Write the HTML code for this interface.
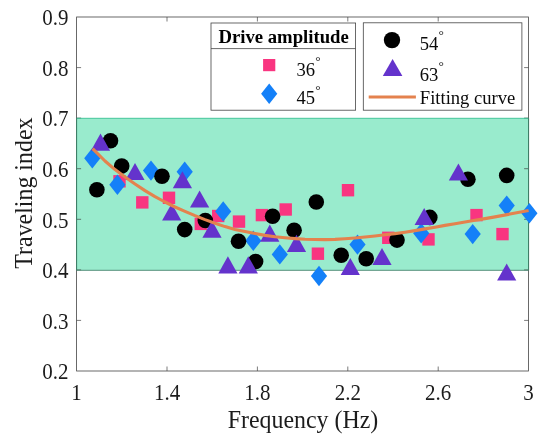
<!DOCTYPE html>
<html><head><meta charset="utf-8"><title>Traveling index vs Frequency</title>
<style>
html,body{margin:0;padding:0;background:#fff;}
body{width:550px;height:441px;overflow:hidden;}
svg{display:block;}
text{font-family:"Liberation Serif","Times New Roman",serif;fill:#1c1c1c;}
.tick{font-size:22.8px;}
.lab{font-size:24.2px;}
.leg{font-size:18.6px;fill:#0a0a0a;}
.deg{font-size:13.5px;}
.legb{font-size:18.7px;font-weight:bold;fill:#000;}
</style></head><body>
<svg width="550" height="441" viewBox="0 0 550 441">
<rect x="0" y="0" width="550" height="441" fill="#ffffff"/>

<rect x="76.6" y="118.3" width="452.0" height="152.0" fill="#99EBCD"/>
<path d="M167.0,371.0 v-4.5 M167.0,17.0 v4.5" stroke="#444444" stroke-width="0.7" fill="none"/>
<path d="M257.4,371.0 v-4.5 M257.4,17.0 v4.5" stroke="#444444" stroke-width="0.7" fill="none"/>
<path d="M347.8,371.0 v-4.5 M347.8,17.0 v4.5" stroke="#444444" stroke-width="0.7" fill="none"/>
<path d="M438.2,371.0 v-4.5 M438.2,17.0 v4.5" stroke="#444444" stroke-width="0.7" fill="none"/>
<path d="M76.6,320.4 h4.5 M528.6,320.4 h-4.5" stroke="#444444" stroke-width="0.7" fill="none"/>
<path d="M76.6,269.9 h4.5 M528.6,269.9 h-4.5" stroke="#444444" stroke-width="0.7" fill="none"/>
<path d="M76.6,219.3 h4.5 M528.6,219.3 h-4.5" stroke="#444444" stroke-width="0.7" fill="none"/>
<path d="M76.6,168.7 h4.5 M528.6,168.7 h-4.5" stroke="#444444" stroke-width="0.7" fill="none"/>
<path d="M76.6,118.1 h4.5 M528.6,118.1 h-4.5" stroke="#444444" stroke-width="0.7" fill="none"/>
<path d="M76.6,67.6 h4.5 M528.6,67.6 h-4.5" stroke="#444444" stroke-width="0.7" fill="none"/>
<rect x="76.6" y="17.0" width="452.0" height="354.0" fill="none" stroke="#444444" stroke-width="0.8"/>
<path d="M76.6,118.3 H528.6" stroke="#35C193" stroke-width="0.9" fill="none"/><path d="M76.6,270.3 H528.6" stroke="#4A8570" stroke-width="0.9" fill="none"/><path d="M76.6,118.3 V270.3 M528.6,118.3 V270.3" stroke="#3C8068" stroke-width="1" fill="none"/>
<g>
<rect x="113.3" y="175.1" width="12.4" height="12.4" fill="#F93580"/>
<rect x="136.1" y="196.2" width="12.4" height="12.4" fill="#F93580"/>
<rect x="162.8" y="191.6" width="12.4" height="12.4" fill="#F93580"/>
<rect x="212.0" y="209.8" width="12.4" height="12.4" fill="#F93580"/>
<rect x="194.6" y="217.7" width="12.4" height="12.4" fill="#F93580"/>
<rect x="232.8" y="215.4" width="12.4" height="12.4" fill="#F93580"/>
<rect x="255.7" y="208.9" width="12.4" height="12.4" fill="#F93580"/>
<rect x="279.5" y="203.3" width="12.4" height="12.4" fill="#F93580"/>
<rect x="341.8" y="184.0" width="12.4" height="12.4" fill="#F93580"/>
<rect x="311.7" y="247.5" width="12.4" height="12.4" fill="#F93580"/>
<rect x="382.1" y="231.6" width="12.4" height="12.4" fill="#F93580"/>
<rect x="422.3" y="233.2" width="12.4" height="12.4" fill="#F93580"/>
<rect x="470.3" y="208.9" width="12.4" height="12.4" fill="#F93580"/>
<rect x="496.3" y="227.9" width="12.4" height="12.4" fill="#F93580"/>
<path d="M92.3,148.1 L100.4,158.3 L92.3,168.5 L84.2,158.3Z" fill="#1480F8"/>
<path d="M117.4,174.6 L125.5,184.8 L117.4,195.0 L109.3,184.8Z" fill="#1480F8"/>
<path d="M151.0,160.4 L159.1,170.6 L151.0,180.8 L142.9,170.6Z" fill="#1480F8"/>
<path d="M184.7,161.5 L192.8,171.7 L184.7,181.9 L176.6,171.7Z" fill="#1480F8"/>
<path d="M223.2,201.2 L231.3,211.4 L223.2,221.6 L215.1,211.4Z" fill="#1480F8"/>
<path d="M253.3,230.6 L261.4,240.8 L253.3,251.0 L245.2,240.8Z" fill="#1480F8"/>
<path d="M279.8,244.2 L287.9,254.4 L279.8,264.6 L271.7,254.4Z" fill="#1480F8"/>
<path d="M319.0,265.8 L327.1,276.0 L319.0,286.2 L310.9,276.0Z" fill="#1480F8"/>
<path d="M357.5,234.4 L365.6,244.6 L357.5,254.8 L349.4,244.6Z" fill="#1480F8"/>
<path d="M421.2,223.1 L429.3,233.3 L421.2,243.5 L413.1,233.3Z" fill="#1480F8"/>
<path d="M472.7,223.9 L480.8,234.1 L472.7,244.3 L464.6,234.1Z" fill="#1480F8"/>
<path d="M506.7,195.4 L514.8,205.6 L506.7,215.8 L498.6,205.6Z" fill="#1480F8"/>
<path d="M529.4,203.0 L537.5,213.2 L529.4,223.4 L521.3,213.2Z" fill="#1480F8"/>
<circle cx="110.5" cy="140.7" r="7.8" fill="#000000"/>
<circle cx="121.7" cy="166.1" r="7.8" fill="#000000"/>
<circle cx="96.9" cy="189.7" r="7.8" fill="#000000"/>
<circle cx="162.0" cy="176.3" r="7.8" fill="#000000"/>
<circle cx="205.3" cy="220.5" r="7.8" fill="#000000"/>
<circle cx="184.7" cy="229.6" r="7.8" fill="#000000"/>
<circle cx="238.5" cy="241.2" r="7.8" fill="#000000"/>
<circle cx="255.6" cy="261.6" r="7.8" fill="#000000"/>
<circle cx="272.6" cy="216.3" r="7.8" fill="#000000"/>
<circle cx="294.1" cy="230.3" r="7.8" fill="#000000"/>
<circle cx="316.3" cy="202.0" r="7.8" fill="#000000"/>
<circle cx="341.2" cy="255.3" r="7.8" fill="#000000"/>
<circle cx="366.2" cy="258.7" r="7.8" fill="#000000"/>
<circle cx="397.0" cy="240.1" r="7.8" fill="#000000"/>
<circle cx="429.8" cy="217.4" r="7.8" fill="#000000"/>
<circle cx="467.9" cy="179.2" r="7.8" fill="#000000"/>
<circle cx="506.7" cy="175.4" r="7.8" fill="#000000"/>
<path d="M100.5,133.6 L110.1,150.7 L90.9,150.7Z" fill="#6433CC"/>
<path d="M135.0,163.0 L144.6,180.1 L125.4,180.1Z" fill="#6433CC"/>
<path d="M182.4,171.2 L192.0,188.3 L172.8,188.3Z" fill="#6433CC"/>
<path d="M199.6,190.5 L209.2,207.6 L190.0,207.6Z" fill="#6433CC"/>
<path d="M171.7,203.4 L181.3,220.5 L162.1,220.5Z" fill="#6433CC"/>
<path d="M212.0,220.6 L221.6,237.7 L202.4,237.7Z" fill="#6433CC"/>
<path d="M227.9,256.3 L237.5,273.4 L218.3,273.4Z" fill="#6433CC"/>
<path d="M248.3,256.3 L257.9,273.4 L238.7,273.4Z" fill="#6433CC"/>
<path d="M269.8,224.6 L279.4,241.7 L260.2,241.7Z" fill="#6433CC"/>
<path d="M296.5,234.8 L306.1,251.9 L286.9,251.9Z" fill="#6433CC"/>
<path d="M350.3,257.9 L359.9,275.0 L340.7,275.0Z" fill="#6433CC"/>
<path d="M382.0,247.9 L391.6,265.0 L372.4,265.0Z" fill="#6433CC"/>
<path d="M424.2,208.0 L433.8,225.1 L414.6,225.1Z" fill="#6433CC"/>
<path d="M458.4,163.5 L468.0,180.6 L448.8,180.6Z" fill="#6433CC"/>
<path d="M506.7,263.5 L516.3,280.6 L497.1,280.6Z" fill="#6433CC"/>
</g>
<path d="M92.6,148.60 L105.0,161.00 L115.0,169.60 L125.0,177.00 L135.0,184.00 L145.0,190.60 L155.0,196.60 L165.0,202.00 L175.0,207.00 L185.0,211.30 L195.0,215.60 L205.0,219.60 L215.0,223.30 L225.0,226.60 L235.0,229.40 L245.0,231.60 L255.0,233.60 L265.0,235.40 L275.0,236.80 L285.0,237.80 L295.0,238.60 L305.0,239.20 L315.0,239.55 L325.0,239.60 L335.0,239.40 L345.0,238.80 L355.0,238.00 L365.0,237.00 L375.0,236.00 L385.0,234.80 L395.0,233.60 L405.0,232.20 L415.0,230.60 L425.0,228.90 L435.0,227.20 L445.0,225.40 L455.0,223.70 L465.0,222.00 L475.0,220.30 L485.0,218.60 L495.0,216.90 L510.0,214.10 L528.6,210.50" fill="none" stroke="#E4824E" stroke-width="3.1" stroke-linejoin="round"/>
<text class="tick" transform="translate(76.6,399.8) scale(0.921,1)" text-anchor="middle">1</text>
<text class="tick" transform="translate(167.0,399.8) scale(0.921,1)" text-anchor="middle">1.4</text>
<text class="tick" transform="translate(257.4,399.8) scale(0.921,1)" text-anchor="middle">1.8</text>
<text class="tick" transform="translate(347.8,399.8) scale(0.921,1)" text-anchor="middle">2.2</text>
<text class="tick" transform="translate(438.2,399.8) scale(0.921,1)" text-anchor="middle">2.6</text>
<text class="tick" transform="translate(528.6,399.8) scale(0.921,1)" text-anchor="middle">3</text>
<text class="tick" transform="translate(68.4,379.2) scale(0.921,1)" text-anchor="end">0.2</text>
<text class="tick" transform="translate(68.4,328.6) scale(0.921,1)" text-anchor="end">0.3</text>
<text class="tick" transform="translate(68.4,278.1) scale(0.921,1)" text-anchor="end">0.4</text>
<text class="tick" transform="translate(68.4,227.5) scale(0.921,1)" text-anchor="end">0.5</text>
<text class="tick" transform="translate(68.4,176.9) scale(0.921,1)" text-anchor="end">0.6</text>
<text class="tick" transform="translate(68.4,126.3) scale(0.921,1)" text-anchor="end">0.7</text>
<text class="tick" transform="translate(68.4,75.8) scale(0.921,1)" text-anchor="end">0.8</text>
<text class="tick" transform="translate(68.4,25.2) scale(0.921,1)" text-anchor="end">0.9</text>
<text class="lab" transform="translate(303,427.6) scale(0.988,1)" text-anchor="middle">Frequency (Hz)</text>
<text class="lab" transform="translate(32.4,193.1) rotate(-90) scale(0.988,1)" text-anchor="middle">Traveling index</text>
<rect x="211.0" y="23" width="144.6" height="87.2" fill="#fff" stroke="#444444" stroke-width="0.8"/>
<path d="M211.0,48.6 H355.6" stroke="#444444" stroke-width="0.8"/>
<text class="legb" x="283.6" y="42.6" text-anchor="middle">Drive amplitude</text>
<rect x="263.1" y="59.0" width="12.2" height="12.2" fill="#F93580"/>
<path d="M269.2,83.6 L277.3,93.8 L269.2,104.0 L261.1,93.8Z" fill="#1480F8"/>
<text class="leg" x="296.4" y="75.8">36</text><text class="deg" x="317.9" y="64.9" text-anchor="middle">°</text>
<text class="leg" x="296.4" y="104.3">45</text><text class="deg" x="317.9" y="93.5" text-anchor="middle">°</text>
<rect x="363.3" y="22.8" width="158.6" height="87.4" fill="#fff" stroke="#444444" stroke-width="0.8"/>
<circle cx="392.0" cy="40.1" r="8.2" fill="#000000"/>
<path d="M392.6,58.9 L402.4,76.0 L382.8,76.0Z" fill="#6433CC"/>
<path d="M368.7,97 H415.9" stroke="#E4824E" stroke-width="3.1"/>
<text class="leg" x="419.8" y="50.2">54</text><text class="deg" x="441.2" y="39.3" text-anchor="middle">°</text>
<text class="leg" x="419.8" y="81.3">63</text><text class="deg" x="441.2" y="70.3" text-anchor="middle">°</text>
<text class="leg" x="419.8" y="103.6">Fitting curve</text>
</svg></body></html>
